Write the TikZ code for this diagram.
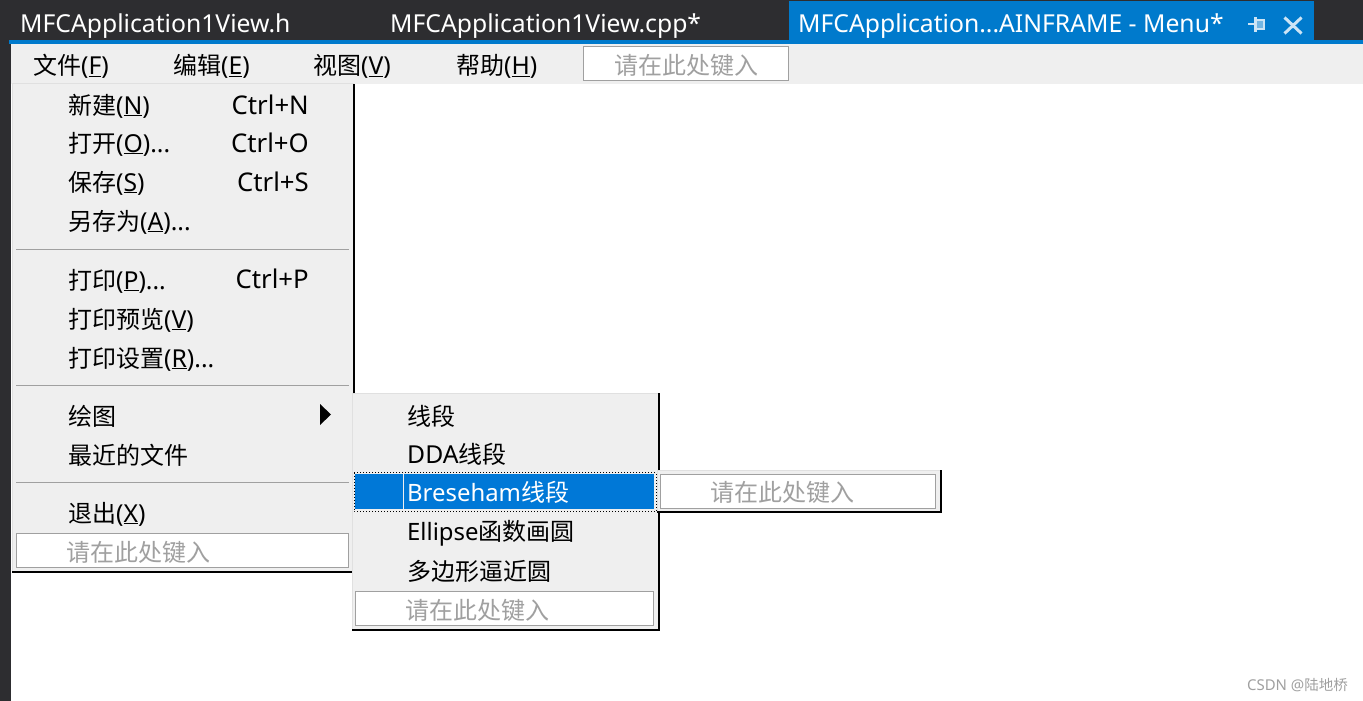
\documentclass[tikz,border=0pt]{standalone}
\usepackage{fontspec}
\setmainfont[Scale=1.03]{Noto Sans}
\newfontfamily\cjk{Noto Sans CJK SC}
\newcommand{\zh}[1]{{\cjk #1}}
\newcommand{\nar}[1]{{\fontsize{23.2}{28}\selectfont #1}}
\definecolor{darkbar}{HTML}{2D2D30}
\definecolor{tabblue}{HTML}{007ACC}
\definecolor{menubg}{HTML}{EFEFEF}
\definecolor{hilite}{HTML}{0078D7}
\definecolor{hintgray}{HTML}{A0A0A0}
\tikzset{
	itemtext/.style={anchor=base west, inner sep=0pt, font=\fontsize{24}{28}\selectfont, text=black},
	keytext/.style={anchor=base east, inner sep=0pt, font=\fontsize{25}{28}\selectfont, text=black},
	tabtext/.style={anchor=base west, inner sep=0pt, font=\fontsize{24}{28}\selectfont, text=white},
	hinttext/.style={anchor=base west, inner sep=0pt, font=\fontsize{24}{28}\selectfont, text=hintgray},
	hintbox/.style={draw=hintgray, line width=1pt, fill=white},
	sepline/.style={draw=hintgray, line width=1pt},
	shadow/.style={draw=black, line width=2pt},
	panel/.style={fill=menubg, draw=white!88!black, line width=1pt}
}
\begin{document}
\begin{tikzpicture}[x=1pt, y=-1pt]
			\useasboundingbox (0,0) rectangle (1363,701);
			\fill[white] (0,0) rectangle (1363,701);

			% title strip
			\fill[darkbar] (0,0) rectangle (1363,40);
			\fill[darkbar] (0,0) rectangle (11,701);
			\fill[tabblue] (789,1) rectangle (1314,44);
			\fill[tabblue] (9,40) rectangle (1363,44);
			\node[tabtext] (tabh) at (20,33){MFCApplication1View.h};
			\node[tabtext] (tabcpp) at (390,33){MFCApplication1View.cpp*};
			\node[tabtext] (tabmenu) at (798,33){MFCApplication...AINFRAME - Menu*};

			% pin and close
			\draw[white!80!tabblue, line width=2pt] (1248,24.5) -- (1255,24.5);
			\draw[white!80!tabblue, line width=2.5pt] (1255.5,17.5) -- (1255.5,32);
			\draw[white!80!tabblue, line width=2.5pt, fill=white!45!tabblue] (1255.5,20) rectangle (1264,29);
			\draw[white!80!tabblue, line width=3pt] (1284.5,17.5) -- (1301.5,33.5);
			\draw[white!80!tabblue, line width=3pt] (1301.5,17.5) -- (1284.5,33.5);

			% menu bar
			\fill[menubg] (11,44) rectangle (1363,84);
			\node[itemtext] (file) at (33,74.5){\zh{文件}(\underline{F})};
			\node[itemtext] (edit) at (173,74.5){\zh{编辑}(\underline{E})};
			\node[itemtext] (view) at (313,74.5){\zh{视图}(\underline{V})};
			\node[itemtext] (help) at (456,74.5){\zh{帮助}(\underline{H})};
			\draw[hintbox] (583.5,46.5) rectangle (788.5,80.5);
			\node[hinttext] (barhint) at (614,74.5){\zh{请在此处键入}};

			% file menu
			\draw[panel] (12.5,83.5) rectangle (353,571);
			\draw[shadow] (354,84) -- (354,572) -- (12,572);
			\node[itemtext] (new) at (68,114){\zh{新建}(\underline{N})};
			\node[itemtext] (open) at (68,152){\zh{打开}(\underline{O})...};
			\node[itemtext] (save) at (68,191){\zh{保存}(\underline{S})};
			\node[itemtext] (saveas) at (68,230){\zh{另存为}(\underline{A})...};
			\node[keytext] (keyn) at (309,114){Ctrl+N};
			\node[keytext] (keyo) at (309,152){Ctrl+O};
			\node[keytext] (keys) at (309,191){Ctrl+S};
			\draw[sepline] (16,249.5) -- (349,249.5);
			\node[itemtext] (print) at (68,289){\zh{打印}(\underline{P})...};
			\node[itemtext] (preview) at (68,328){\zh{打印预览}(\underline{V})};
			\node[itemtext] (setup) at (68,367){\zh{打印设置}(\underline{R})...};
			\node[keytext] (keyp) at (309,288){Ctrl+P};
			\draw[sepline] (16,385.5) -- (349,385.5);
			\node[itemtext] (drawitem) at (68,425){\zh{绘图}};
			\node[itemtext] (recent) at (68,464){\zh{最近的文件}};
			\fill[black] (320,404) -- (331,414.5) -- (320,425) -- cycle;
			\draw[sepline] (16,482.5) -- (349,482.5);
			\node[itemtext] (quit) at (68,522){\zh{退出}(\underline{X})};
			\draw[hintbox] (16.5,533.5) rectangle (348.5,567.5);
			\node[hinttext] (filehint) at (66,561){\zh{请在此处键入}};

			% draw submenu
			\draw[panel] (352.5,393.5) rectangle (658,629);
			\draw[shadow] (659,393) -- (659,630) -- (352,630);
			\node[itemtext] (line) at (407,425){\zh{线段}};
			\node[itemtext] (dda) at (407,463){DDA\zh{线段}};
			\fill[hilite] (355,474) rectangle (403,509);
			\fill[hilite] (404,474) rectangle (654,509);
			\draw[black, line width=1pt, dotted] (354,472.5) rectangle (656,511.5);
			\node[tabtext] (bres) at (407,501){\nar{Breseham}\zh{线段}};
			\node[itemtext] (ellipse) at (407,540){\nar{Ellipse}\zh{函数画圆}};
			\node[itemtext] (poly) at (407,580){\zh{多边形逼近圆}};
			\draw[hintbox] (355.5,591.5) rectangle (653.5,625.5);
			\node[hinttext] (subhint) at (405,619){\zh{请在此处键入}};

			% small box beside the selected item
			\draw[panel] (657.5,470.5) rectangle (940,511);
			\draw[shadow] (941,470) -- (941,512) -- (657,512);
			\draw[hintbox] (660.5,474.5) rectangle (935.5,508.5);
			\node[hinttext] (sidehint) at (710,501){\zh{请在此处键入}};

			% mark
			\node[anchor=base east, inner sep=0pt, font=\fontsize{14.5}{16}\selectfont, text=hintgray] (mark) at (1348,690){CSDN @\zh{陆地桥}};
\end{tikzpicture}
\end{document}
